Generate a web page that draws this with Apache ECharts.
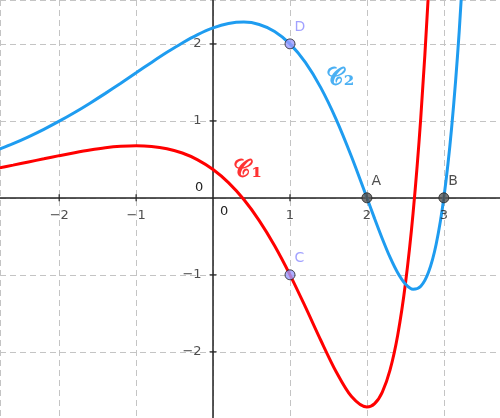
<!DOCTYPE html>
<html><head><meta charset="utf-8">
<script src="https://cdn.jsdelivr.net/npm/echarts@6/dist/echarts.min.js"></script>
<style>html,body{margin:0;padding:0;background:#fff}#c{width:500px;height:418px}</style>
</head><body><div id="c"></div>
<script>
const xs1 = [-2.8,-2.6,-2.4,-2.2,-2.0,-1.8,-1.6,-1.4,-1.2,-1.0,-0.8,-0.6,-0.4,-0.2,0,0.2,0.4,0.6,0.8,1.0,1.2,1.4,1.6,1.8,2.0,2.1,2.2,2.3,2.4,2.5,2.6,2.7,2.8,2.9];
const c1 = [0.386,0.425,0.466,0.507,0.548,0.586,0.621,0.650,0.669,0.677,0.668,0.638,0.582,0.494,0.368,0.198,-0.022,-0.295,-0.622,-1,-1.417,-1.850,-2.259,-2.582,-2.718,-2.674,-2.523,-2.238,-1.784,-1.120,-0.198,1.040,2.662,4.747];
const xs2 = [-2.8,-2.6,-2.4,-2.2,-2.0,-1.8,-1.6,-1.4,-1.2,-1.0,-0.8,-0.6,-0.4,-0.2,0,0.2,0.4,0.6,0.8,1.0,1.2,1.4,1.6,1.8,2.0,2.1,2.2,2.3,2.4,2.5,2.6,2.7,2.8,2.9,3.0,3.1,3.2,3.3,3.4];
const c2 = [0.623,0.704,0.793,0.890,0.996,1.109,1.230,1.357,1.489,1.624,1.759,1.890,2.012,2.120,2.207,2.264,2.283,2.252,2.161,2,1.759,1.432,1.020,0.534,0,-0.270,-0.531,-0.771,-0.973,-1.120,-1.189,-1.150,-0.968,-0.602,0,0.898,2.166,3.890,6.173];
const xTicks = [-2,-1,0,1,2,3];
const yTicks = [-2,-1,0,1,2];
const points = [
  {name:'A', x:2, y:0, kind:'axis'},
  {name:'B', x:3, y:0, kind:'axis'},
  {name:'C', x:1, y:-1, kind:'free'},
  {name:'D', x:1, y:2, kind:'free'}
];
const curveLabels = [
  {text:'𝒞₁', x:0.45, y:0.35, color:'#ff0000'},
  {text:'𝒞₂', x:1.65, y:1.55, color:'#1e9cf0'}
];
const xr = [-2.77, 3.73], yr = [-2.86, 2.57];

const chart = echarts.init(document.getElementById('c'));
const axisCommon = {
  type:'value', minInterval:1, maxInterval:1,
  axisLine:{onZero:true, lineStyle:{color:'#222', width:1.5}},
  axisTick:{show:false},
  axisLabel:{show:false},
  splitLine:{show:true, lineStyle:{color:'#c4c4c4', type:[6,4], width:1}}
};
const fmt = v => String(v).replace('-', '−');
const lblStyle = {fontSize:13, fontFamily:'DejaVu Sans', color:'#222'};
chart.setOption({
  animation:false,
  grid:{left:0, right:0, top:0, bottom:0, containLabel:false, outerBoundsMode:'none'},
  xAxis:Object.assign({}, axisCommon, {min:xr[0], max:xr[1]}),
  yAxis:Object.assign({}, axisCommon, {min:yr[0], max:yr[1]}),
  series:[
    {type:'line', data:xs1.map((x,i)=>[x,c1[i]]), smooth:0.3, symbol:'none', lineStyle:{color:'#ff0000', width:3}, clip:true, z:3},
    {type:'line', data:xs2.map((x,i)=>[x,c2[i]]), smooth:0.3, symbol:'none', lineStyle:{color:'#1e9cf0', width:3}, clip:true, z:3},
    {type:'scatter', z:4, silent:true, symbol:'rect', symbolSize:[1.5,7], itemStyle:{color:'#222'},
      data:xTicks.filter(v=>v!==0).map(v=>({value:[v,0],
        label:{show:true, formatter:fmt(v), position:'bottom', distance:8, ...lblStyle}}))},
    {type:'scatter', z:4, silent:true, symbol:'rect', symbolSize:[7,1.5], itemStyle:{color:'#222'},
      data:yTicks.filter(v=>v!==0).map(v=>({value:[0,v],
        label:{show:true, formatter:fmt(v), position:'left', distance:8, ...lblStyle}}))},
    {type:'scatter', z:5, symbolSize:10,
      data:points.map(p=>({value:[p.x,p.y], name:p.name,
        itemStyle:{color:p.kind==='axis'?'#555555':'#9a9aff', borderColor:'#222', borderWidth:1},
        label:{show:true, formatter:p.name, position:[10,-18], fontSize:14, fontFamily:'DejaVu Sans', color:p.kind==='axis'?'#222':'#8a8aff'}}))},
    {type:'scatter', z:6, symbolSize:0, silent:true,
      data:curveLabels.map(c=>({value:[c.x,c.y],
        label:{show:true, formatter:c.text, position:'inside', fontSize:24, fontWeight:'bold', fontFamily:'DejaVu Serif', color:c.color}}))}
  ],
  graphic:[
    {type:'text', left:220, top:205, style:{text:'0', fill:'#222', font:'13px DejaVu Sans'}},
    {type:'text', left:195, top:181, style:{text:'0', fill:'#222', font:'13px DejaVu Sans'}}
  ]
});
</script></body></html>
